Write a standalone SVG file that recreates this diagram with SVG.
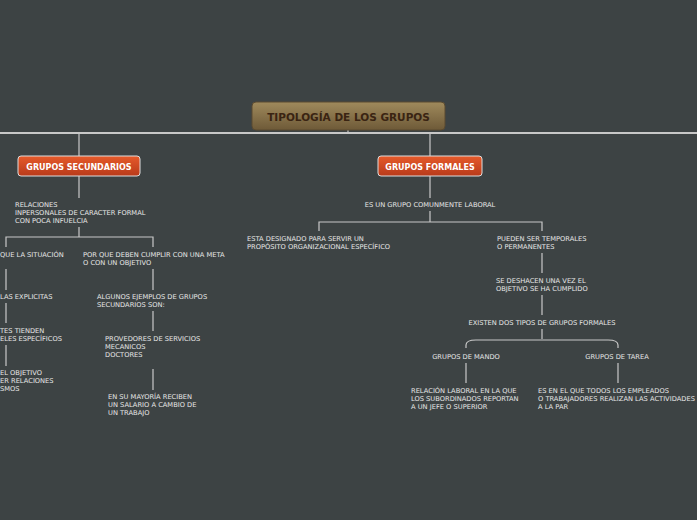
<svg xmlns="http://www.w3.org/2000/svg" width="697" height="520" viewBox="0 0 697 520">
<defs>
<linearGradient id="gr" x1="0" y1="0" x2="0" y2="1"><stop offset="0" stop-color="#a08a5c"/><stop offset="1" stop-color="#6e5a38"/></linearGradient>
<linearGradient id="go" x1="0" y1="0" x2="0" y2="1"><stop offset="0" stop-color="#e65a2a"/><stop offset="1" stop-color="#b83a1a"/></linearGradient>
</defs>
<style>
.t{font-family:"DejaVu Sans",sans-serif;font-size:6.7px;fill:#e8e8e8}
.m{text-anchor:middle}
.c{stroke:#c8c8c8;stroke-width:1.2;fill:none}
.b{font-family:"DejaVu Sans",sans-serif;font-weight:bold;font-size:8px;fill:#fff;text-anchor:middle}
</style>
<rect width="697" height="520" fill="#3d4344"/>
<g id="connectors" class="c">
<path d="M0 133H697" stroke-width="2"/>
<path d="M348 130V133M79 133V156M430 133V156"/>
<path d="M79 176V198M79 227V237M6 247V237H153V247"/>
<path d="M6 269V290M6 303V323M6 345V366"/>
<path d="M153 269V290M153 311V331M153 369V390"/>
<path d="M430 176V198M430 211V222M319 231V222H542V231"/>
<path d="M542 253V273M542 295V315M542 329V339"/>
<path d="M466 348V345Q466 340 476 340H608Q618 340 618 345V348"/>
<path d="M466 363V383M618 363V383"/>
</g>
<g id="root"><rect x="252" y="102" width="193" height="28" rx="4" fill="url(#gr)" stroke="#5a4a30"/>
<text x="348.5" y="120.5" font-family="DejaVu Sans,sans-serif" font-weight="bold" font-size="10.5" fill="#3a2412" text-anchor="middle">TIPOLOGÍA DE LOS GRUPOS</text></g>
<g id="gs"><rect x="18" y="156" width="122" height="20" rx="3" fill="url(#go)" stroke="#ddd"/><text class="b" x="79" y="169.5">GRUPOS SECUNDARIOS</text></g>
<g id="gf"><rect x="378" y="156" width="104" height="20" rx="3" fill="url(#go)" stroke="#ddd"/><text class="b" x="430" y="169.5">GRUPOS FORMALES</text></g>
<g id="n1"><text class="t" x="15" y="207">RELACIONES</text><text class="t" x="15" y="215">INPERSONALES DE CARACTER FORMAL</text><text class="t" x="15" y="223">CON POCA INFUELCIA</text></g>
<g id="n2"><text class="t" x="0" y="257">QUE LA SITUACIÓN</text></g>
<g id="n3"><text class="t" x="83" y="257">POR QUE DEBEN CUMPLIR CON UNA META</text><text class="t" x="83" y="265">O CON UN OBJETIVO</text></g>
<g id="n4"><text class="t" x="0" y="299">LAS EXPLICITAS</text></g>
<g id="n5"><text class="t" x="0" y="333">TES TIENDEN</text><text class="t" x="0" y="341">ELES ESPECÍFICOS</text></g>
<g id="n6"><text class="t" x="0" y="375">EL OBJETIVO</text><text class="t" x="0" y="383">ER RELACIONES</text><text class="t" x="0" y="391">SMOS</text></g>
<g id="n7"><text class="t" x="97" y="299">ALGUNOS EJEMPLOS DE GRUPOS</text><text class="t" x="97" y="307">SECUNDARIOS SON:</text></g>
<g id="n8"><text class="t" x="105" y="341">PROVEDORES DE SERVICIOS</text><text class="t" x="105" y="349">MECANICOS</text><text class="t" x="105" y="357">DOCTORES</text></g>
<g id="n9"><text class="t" x="108" y="399">EN SU MAYORÍA RECIBEN</text><text class="t" x="108" y="407">UN SALARIO A CAMBIO DE</text><text class="t" x="108" y="415">UN TRABAJO</text></g>
<g id="n10"><text class="t m" x="430" y="207">ES UN GRUPO COMUNMENTE LABORAL</text></g>
<g id="n11"><text class="t" x="247" y="241">ESTA DESIGNADO PARA SERVIR UN</text><text class="t" x="247" y="249">PROPÓSITO ORGANIZACIONAL ESPECÍFICO</text></g>
<g id="n12"><text class="t" x="497" y="241">PUEDEN SER TEMPORALES</text><text class="t" x="497" y="249">O PERMANENTES</text></g>
<g id="n13"><text class="t" x="496" y="283">SE DESHACEN UNA VEZ EL</text><text class="t" x="496" y="291">OBJETIVO SE HA CUMPLIDO</text></g>
<g id="n14"><text class="t m" x="542" y="325">EXISTEN DOS TIPOS DE GRUPOS FORMALES</text></g>
<g id="n15"><text class="t m" x="466" y="359">GRUPOS DE MANDO</text></g>
<g id="n16"><text class="t m" x="617" y="359">GRUPOS DE TAREA</text></g>
<g id="n17"><text class="t" x="411" y="393">RELACIÓN LABORAL EN LA QUE</text><text class="t" x="411" y="401">LOS SUBORDINADOS REPORTAN</text><text class="t" x="411" y="409">A UN JEFE O SUPERIOR</text></g>
<g id="n18"><text class="t" x="538" y="393">ES EN EL QUE TODOS LOS EMPLEADOS</text><text class="t" x="538" y="401">O TRABAJADORES REALIZAN LAS ACTIVIDADES</text><text class="t" x="538" y="409">A LA PAR</text></g>
</svg>
